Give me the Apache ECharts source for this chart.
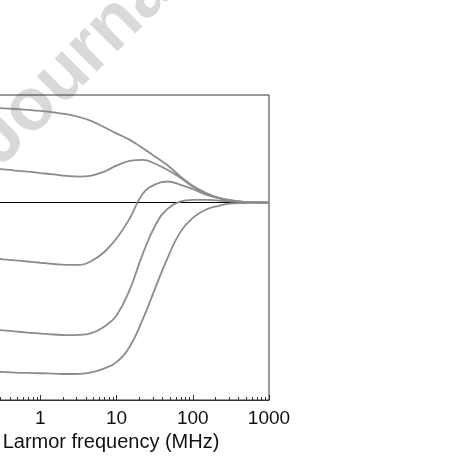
<!DOCTYPE html>
<html>
<head>
<meta charset="utf-8">
<script src="https://cdn.jsdelivr.net/npm/echarts@6/dist/echarts.min.js"></script>
<style>
  html, body { margin: 0; padding: 0; background: #fff; }
  #chart { width: 474px; height: 474px; }
</style>
</head>
<body>
<div id="chart"></div>
<script>
// Larmor frequency grid (MHz)
const freqs = [0.1, 0.15, 0.22, 0.33, 0.47, 0.68, 1, 1.5, 2.2, 3.3, 4.7, 6.8, 10, 15, 22, 33, 47, 68, 100, 150, 220, 330, 470, 680, 1000];

// curves, top to bottom
const curveA = [0.538, 0.534, 0.530, 0.526, 0.522, 0.517, 0.511, 0.503, 0.493, 0.476, 0.454, 0.422, 0.386, 0.350, 0.304, 0.253, 0.207, 0.148, 0.094, 0.054, 0.027, 0.013, 0.004, 0.002, 0];
const curveB = [0.204, 0.198, 0.193, 0.186, 0.179, 0.173, 0.165, 0.157, 0.149, 0.145, 0.151, 0.172, 0.206, 0.233, 0.238, 0.214, 0.182, 0.140, 0.089, 0.048, 0.024, 0.010, 0.004, 0.001, 0];
const curveC = [-0.298, -0.303, -0.309, -0.316, -0.322, -0.328, -0.335, -0.342, -0.347, -0.347, -0.325, -0.278, -0.200, -0.086, 0.048, 0.104, 0.118, 0.101, 0.076, 0.045, 0.026, 0.011, 0.004, 0.002, 0];
const curveD = [-0.693, -0.699, -0.705, -0.712, -0.718, -0.724, -0.730, -0.735, -0.738, -0.737, -0.727, -0.693, -0.629, -0.482, -0.288, -0.119, -0.033, 0.006, 0.016, 0.016, 0.011, 0.007, 0.003, 0.002, 0];
const curveE = [-0.933, -0.937, -0.940, -0.944, -0.947, -0.949, -0.951, -0.953, -0.955, -0.954, -0.946, -0.925, -0.889, -0.800, -0.652, -0.465, -0.306, -0.167, -0.085, -0.038, -0.018, -0.004, -0.002, -0.001, 0];

const curves = [curveA, curveB, curveC, curveD, curveE];

const minorTicks = [];
[0.1, 1, 10, 100].forEach((decade) => {
  for (let k = 2; k <= 9; k++) minorTicks.push(+(decade * k).toPrecision(3));
});

const myChart = echarts.init(document.getElementById("chart"), null, { renderer: "canvas" });

const series = curves.map((vals, idx) => ({
  type: "line",
  data: freqs.map((f, i) => [f, vals[i]]),
  smooth: 0.45,
  symbol: "none",
  lineStyle: { color: "#8c8c8c", width: 1.8 },
  z: 3,
  markLine: idx === 0 ? {
    silent: true,
    symbol: "none",
    label: { show: false },
    lineStyle: { color: "#000", width: 1.2, type: "solid" },
    data: [{ yAxis: 0 }],
    z: 2,
  } : undefined,
}));

const option = {
  animation: false,
  backgroundColor: "#fff",
  graphic: [
    {
      type: "text",
      x: 12,
      y: 180,
      rotation: (45 * Math.PI) / 180,
      z: -10,
      style: {
        text: "Journal",
        font: "bold 74px 'Liberation Sans', Arial, sans-serif",
        fill: "#d9d9d9",
        textAlign: "left",
        textVerticalAlign: "bottom",
      },
    },
  ],
  grid: {
    left: -36,
    right: 205,
    top: 95,
    bottom: 74,
    containLabel: false,
    outerBoundsMode: "none",
    show: true,
    borderColor: "#333",
    borderWidth: 1,
    backgroundColor: "transparent",
  },
  xAxis: [
    {
      type: "log",
      logBase: 10,
      min: 0.1,
      max: 1000,
      name: "Larmor frequency (MHz)",
      nameLocation: "middle",
      nameGap: 29,
      nameTextStyle: {
        fontFamily: "'Liberation Sans', Arial, sans-serif",
        fontSize: 20,
        color: "#111",
        padding: [0, 11, 0, 0],
      },
      axisLine: { show: true, onZero: false, lineStyle: { color: "#333", width: 1 } },
      axisTick: { show: true, inside: true, length: 5, lineStyle: { color: "#333" } },
      axisLabel: {
        margin: 9,
        fontFamily: "'Liberation Sans', Arial, sans-serif",
        fontSize: 19,
        color: "#111",
        formatter: (v) => (v >= 1 ? String(v) : ""),
      },
      splitLine: { show: false },
    },
    {
      type: "log",
      logBase: 10,
      min: 0.1,
      max: 1000,
      position: "bottom",
      axisLine: { show: false, onZero: false },
      axisLabel: { show: false },
      axisTick: { show: true, inside: true, length: 3, customValues: minorTicks, lineStyle: { color: "#333" } },
      splitLine: { show: false },
    },
  ],
  yAxis: {
    type: "value",
    min: -1.1,
    max: 0.6,
    show: false,
    splitLine: { show: false },
  },
  series: series,
};

myChart.setOption(option);
</script>
</body>
</html>
